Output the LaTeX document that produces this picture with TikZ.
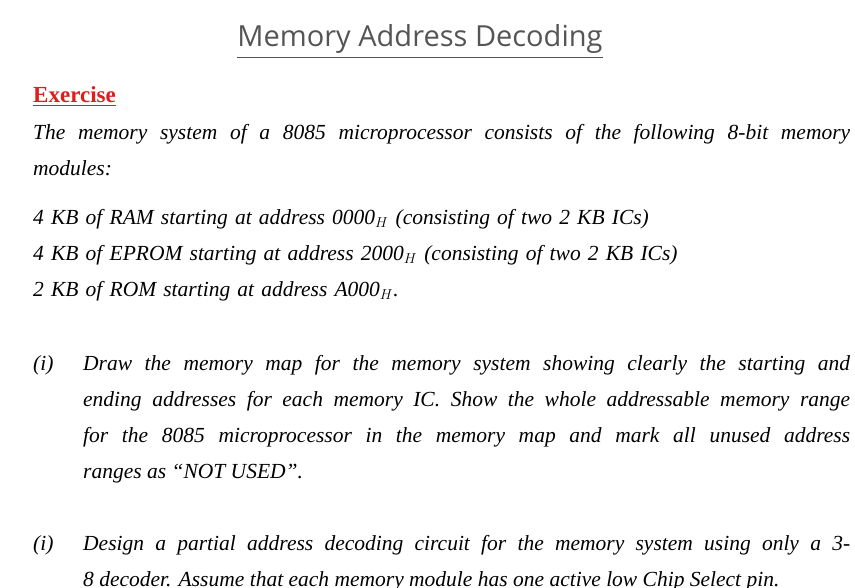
\documentclass[tikz,border=0pt]{standalone}
\usepackage{fontspec}
\setmainfont{Liberation Serif}
\newfontfamily\titlefont{Open Sans}
\usepackage{xcolor}
\definecolor{titlegray}{RGB}{85,85,85}
\definecolor{exred}{RGB}{220,30,30}
\tikzset{
  body/.style={anchor=north west,inner sep=0pt,align=justify,
    font=\fontsize{21.5}{36}\selectfont\itshape},
  itemno/.style={anchor=north west,inner sep=0pt,
    font=\fontsize{21.5}{36}\selectfont\itshape}
}
\begin{document}
\begin{tikzpicture}[x=1pt,y=-1pt]
\useasboundingbox (0,0) rectangle (855,587);
\node[anchor=base,inner sep=0pt,text=titlegray,font=\titlefont\fontsize{29}{32}\selectfont] (title) at (420,46)
  {Memory Address Decoding};
\draw[titlegray,line width=1.2pt] ([yshift=-4pt]title.south west) -- ([yshift=-4pt]title.south east);
\node[anchor=base west,inner sep=0pt,text=exred,font=\fontsize{23}{26}\selectfont\bfseries] (ex) at (33,102) {Exercise};
\draw[exred,line width=1pt] ([yshift=-3pt]ex.base west) -- ([yshift=-3pt]ex.base east);
\node[body,text width=817pt] (intro) at (33,124)
  {The memory system of a 8085 microprocessor consists of the following 8-bit memory\linebreak modules:};
\node[body,text width=817pt,align=left] (mods) at (33,209)
  {4 KB of RAM starting at address 0000$_H$ (consisting of two 2 KB ICs)\\
   4 KB of EPROM starting at address 2000$_H$ (consisting of two 2 KB ICs)\\
   2 KB of ROM starting at address A000$_H$.};
\node[itemno] (n1) at (33,355) {(i)};
\node[body,text width=767pt] (item1) at (83,355)
  {Draw the memory map for the memory system showing clearly the starting and\linebreak
   ending addresses for each memory IC. Show the whole addressable memory range\linebreak
   for the 8085 microprocessor in the memory map and mark all unused address\linebreak
   ranges as ``NOT USED''.};
\node[itemno] (n2) at (33,535) {(i)};
\node[body,text width=767pt] (item2) at (83,535)
  {Design a partial address decoding circuit for the memory system using only a 3-\linebreak
   8 decoder. Assume that each memory module has one active low Chip Select pin.};
\end{tikzpicture}
\end{document}
